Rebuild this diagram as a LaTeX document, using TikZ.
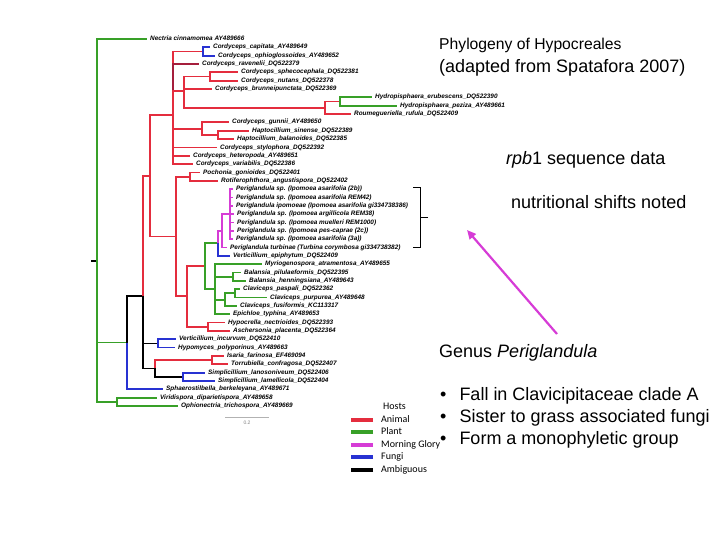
\documentclass[tikz,border=0pt]{standalone}
\usepackage{fontspec}
\setmainfont{Liberation Sans}
\newfontfamily\legendfont{Carlito}
\usetikzlibrary{arrows.meta,positioning}

\definecolor{hostred}{RGB}{228,45,62}
\definecolor{hostdark}{RGB}{165,30,60}
\definecolor{hostgreen}{RGB}{56,160,40}
\definecolor{hostpink}{RGB}{214,60,214}
\definecolor{hostblue}{RGB}{40,50,210}

\begin{document}
\begin{tikzpicture}
	[x=1pt,y=-1pt,
	branch/.style={line width=1.8pt},
	taxon/.style={anchor=west,inner xsep=3pt,inner ysep=0pt,text height=4.6pt,text depth=1.4pt,font=\fontsize{6.4}{7}\selectfont\bfseries\itshape},
	infotext/.style={anchor=base west,inner sep=0pt,font=\fontsize{18}{21}\selectfont},
	hostkey/.style={anchor=west,inner sep=0pt,text height=7pt,text depth=2pt,font=\legendfont\fontsize{10}{12}\selectfont},
	keybar/.style={line width=4pt}]
	\useasboundingbox (0,0) rectangle (720,540);

	% tree: y counts the taxa from the top
	\begin{scope}[yshift=-30.66pt,y=-8.34pt]
		\coordinate (nroot) at (97,27.63);
		\coordinate (rootstub) at (91,27.63);
		\coordinate (nC) at (127,37.4);
		\coordinate (nvir) at (117,44.5);
		\coordinate (nB) at (143,31.79);
		\coordinate (nA) at (150,17.38);
		\coordinate (nophio) at (173,10.07);
		\coordinate (ncap) at (203,2.5);
		\coordinate (nE) at (184,7.25);
		\coordinate (nsphe) at (210,5.5);
		\coordinate (nhyd) at (325,9.25);
		\coordinate (nhydro) at (340,8.5);
		\coordinate (ngun) at (202,11.75);
		\coordinate (nhapt) at (218,12.5);
		\coordinate (nD) at (176,24.68);
		\coordinate (npoch) at (190,17.5);
		\coordinate (nR2) at (187,31.86);
		\coordinate (ngc) at (205,28.22);
		\coordinate (nv) at (218,25.5);
		\coordinate (nm2) at (222,24);
		\coordinate (nm1) at (230,22);
		\coordinate (ng2) at (215,30.94);
		\coordinate (nbal) at (233,29.5);
		\coordinate (nc2) at (225,32.25);
		\coordinate (nc1) at (235,31.5);
		\coordinate (nhyp) at (208,35.5);
		\coordinate (nvert) at (158,37.5);
		\coordinate (nIS) at (155,40.5);
		\coordinate (nisa) at (212,39.5);
		\coordinate (nsim) at (183,41.5);

		\node [taxon] (t1) at (147,1) {Nectria cinnamomea AY489666};
		\node [taxon] (t2) at (210,2) {Cordyceps\_capitata\_AY489649};
		\node [taxon] (t3) at (215,3) {Cordyceps\_ophioglossoides\_AY489652};
		\node [taxon] (t4) at (199,4) {Cordyceps\_ravenelii\_DQ522379};
		\node [taxon] (t5) at (238,5) {Cordyceps\_sphecocephala\_DQ522381};
		\node [taxon] (t6) at (238,6) {Cordyceps\_nutans\_DQ522378};
		\node [taxon] (t7) at (212,7) {Cordyceps\_brunneipunctata\_DQ522369};
		\node [taxon] (t8) at (372,8) {Hydropisphaera\_erubescens\_DQ522390};
		\node [taxon] (t9) at (397,9) {Hydropisphaera\_peziza\_AY489661};
		\node [taxon] (t10) at (351,10) {Roumegueriella\_rufula\_DQ522409};
		\node [taxon] (t11) at (229,11) {Cordyceps\_gunnii\_AY489650};
		\node [taxon] (t12) at (249,12) {Haptocillium\_sinense\_DQ522389};
		\node [taxon] (t13) at (234,13) {Haptocillium\_balanoides\_DQ522385};
		\node [taxon] (t14) at (217,14) {Cordyceps\_stylophora\_DQ522392};
		\node [taxon] (t15) at (190,15) {Cordyceps\_heteropoda\_AY489651};
		\node [taxon] (t16) at (193,16) {Cordyceps\_variabilis\_DQ522386};
		\node [taxon] (t17) at (200,17) {Pochonia\_gonioides\_DQ522401};
		\node [taxon] (t18) at (218,18) {Rotiferophthora\_angustispora\_DQ522402};
		\node [taxon] (t19) at (233,19) {Periglandula sp. (Ipomoea asarifolia (2b))};
		\node [taxon] (t20) at (233,20) {Periglandula sp. (Ipomoea asarifolia REM42)};
		\node [taxon] (t21) at (233,21) {Periglandula ipomoeae (Ipomoea asarifolia gi334738386)};
		\node [taxon] (t22) at (234,22) {Periglandula sp. (Ipomoea argillicola REM38)};
		\node [taxon] (t23) at (234,23) {Periglandula sp. (Ipomoea muelleri REM1000)};
		\node [taxon] (t24) at (234,24) {Periglandula sp. (Ipomoea pes-caprae (2c))};
		\node [taxon] (t25) at (233,25) {Periglandula sp. (Ipomoea asarifolia (3a))};
		\node [taxon] (t26) at (227,26) {Periglandula turbinae (Turbina corymbosa gi334738382)};
		\node [taxon] (t27) at (230,27) {Verticillium\_epiphytum\_DQ522409};
		\node [taxon] (t28) at (262,28) {Myriogenospora\_atramentosa\_AY489655};
		\node [taxon] (t29) at (241,29) {Balansia\_pilulaeformis\_DQ522395};
		\node [taxon] (t30) at (246,30) {Balansia\_henningsiana\_AY489643};
		\node [taxon] (t31) at (240,31) {Claviceps\_paspali\_DQ522362};
		\node [taxon] (t32) at (267,32) {Claviceps\_purpurea\_AY489648};
		\node [taxon] (t33) at (237,33) {Claviceps\_fusiformis\_KC113317};
		\node [taxon] (t34) at (230,34) {Epichloe\_typhina\_AY489653};
		\node [taxon] (t35) at (225,35) {Hypocrella\_nectrioides\_DQ522393};
		\node [taxon] (t36) at (230,36) {Aschersonia\_placenta\_DQ522364};
		\node [taxon] (t37) at (176,37) {Verticillium\_incurvum\_DQ522410};
		\node [taxon] (t38) at (175,38) {Hypomyces\_polyporinus\_AY489663};
		\node [taxon] (t39) at (224,39) {Isaria\_farinosa\_EF469094};
		\node [taxon] (t40) at (228,40) {Torrubiella\_confragosa\_DQ522407};
		\node [taxon] (t41) at (205,41) {Simplicillium\_lanosoniveum\_DQ522406};
		\node [taxon] (t42) at (215,42) {Simplicillium\_lamellicola\_DQ522404};
		\node [taxon] (t43) at (163,43) {Sphaerostilbella\_berkeleyana\_AY489671};
		\node [taxon] (t44) at (157,44) {Viridispora\_diparietispora\_AY489658};
		\node [taxon] (t45) at (178,45) {Ophionectria\_trichospora\_AY489669};

		\draw [branch] (rootstub) -- (nroot);
		\draw [branch,hostgreen] (nroot) |- (t1.west);
		\draw [branch,hostgreen] (nroot) |- (nC);
		\draw [branch,hostgreen] (nroot) |- (nvir);
		\draw [branch,hostgreen] (nvir) |- (t44.west);
		\draw [branch,hostgreen] (nvir) |- (t45.west);
		\draw [branch] (nC) |- (nB);
		\draw [branch,hostblue] (nC) |- (t43.west);
		\draw [branch,hostred] (nB) |- (nA);
		\draw [branch] (nB) |- (nvert);
		\draw [branch] (nB) |- (nIS);
		\draw [branch,hostblue] (nvert) |- (t37.west);
		\draw [branch,hostblue] (nvert) |- (t38.west);
		\draw [branch,hostred] (nIS) |- (nisa);
		\draw [branch] (nIS) |- (nsim);
		\draw [branch,hostred] (nisa) |- (t39.west);
		\draw [branch,hostred] (nisa) |- (t40.west);
		\draw [branch,hostblue] (nsim) |- (t41.west);
		\draw [branch,hostblue] (nsim) |- (t42.west);
		% Ophiocordyceps side
		\draw [branch,hostred] (nA) |- (nophio);
		\draw [branch,hostred] (nA) |- (nD);
		\draw [branch,hostred] (nophio) |- (ncap);
		\draw [branch,hostblue] (ncap) |- (t2.west);
		\draw [branch,hostblue] (ncap) |- (t3.west);
		\draw [branch,hostdark] (nophio) |- (t4.west);
		\draw [branch,hostred] (nophio) |- (nE);
		\draw [branch,hostred] (nE) |- (nsphe);
		\draw [branch,hostred] (nsphe) |- (t5.west);
		\draw [branch,hostred] (nsphe) |- (t6.west);
		\draw [branch,hostred] (nE) |- (t7.west);
		\draw [branch,hostred] (nE) |- (nhyd);
		\draw [branch,hostred] (nhyd) |- (nhydro);
		\draw [branch,hostgreen] (nhydro) |- (t8.west);
		\draw [branch,hostgreen] (nhydro) |- (t9.west);
		\draw [branch,hostred] (nhyd) |- (t10.west);
		\draw [branch,hostred] (nophio) |- (ngun);
		\draw [branch,hostred] (ngun) |- (t11.west);
		\draw [branch,hostred] (ngun) |- (nhapt);
		\draw [branch,hostred] (nhapt) |- (t12.west);
		\draw [branch,hostred] (nhapt) |- (t13.west);
		\draw [branch,hostred] (nophio) |- (t14.west);
		\draw [branch,hostred] (nophio) |- (t15.west);
		\draw [branch,hostred] (nophio) |- (t16.west);
		% Clavicipitaceae
		\draw [branch,hostred] (nD) |- (npoch);
		\draw [branch,hostred] (npoch) |- (t17.west);
		\draw [branch,hostred] (npoch) |- (t18.west);
		\draw [branch,hostred] (nD) |- (nR2);
		\draw [branch,hostred] (nR2) |- (ngc);
		\draw [branch,hostred] (nR2) |- (nhyp);
		\draw [branch,hostred] (nhyp) |- (t35.west);
		\draw [branch,hostred] (nhyp) |- (t36.west);
		\draw [branch,hostgreen] (ngc) |- (nv);
		\draw [branch,hostgreen] (ngc) |- (ng2);
		\draw [branch,hostpink] (nv) |- (nm2);
		\draw [branch,hostblue] (nv) |- (t27.west);
		\draw [branch,hostpink] (nm2) |- (nm1);
		\draw [branch,hostpink] (nm2) |- (t26.west);
		\foreach \i in {19,...,25}
			\draw [branch,hostpink] (nm1) |- (t\i.west);
		\draw [branch,hostgreen] (ng2) |- (t28.west);
		\draw [branch,hostgreen] (ng2) |- (nbal);
		\draw [branch,hostgreen] (nbal) |- (t29.west);
		\draw [branch,hostgreen] (nbal) |- (t30.west);
		\draw [branch,hostgreen] (ng2) |- (nc2);
		\draw [branch,hostgreen] (nc2) |- (nc1);
		\draw [branch,hostgreen] (nc1) |- (t31.west);
		\draw [branch,hostgreen] (nc1) |- (t32.west);
		\draw [branch,hostgreen] (nc2) |- (t33.west);
		\draw [branch,hostgreen] (ng2) |- (t34.west);
	\end{scope}

	% scale bar
	\coordinate (sbleft) at (225,417);
	\coordinate (sbright) at (269,417);
	\draw [gray!60,line width=0.6pt] (sbleft) -- (sbright) node [midway,below=4pt,inner sep=0pt,text=gray,font=\fontsize{5}{6}\selectfont] {0.2};

	% bracket round Periglandula
	\coordinate (brtop) at (413,187);
	\coordinate (brbot) at (413,247);
	\coordinate (brtip) at (428,217);
	\draw [line width=0.6pt] (brtop) -- ++(7,0) |- (brbot);
	\draw [line width=0.6pt] (brtip) -- ++(-8,0);

	% text
	\node [infotext,font=\fontsize{15.7}{19}\selectfont] (title) at (439,50) {Phylogeny of Hypocreales};
	\node [infotext] (source) at (439,73) {(adapted from Spatafora 2007)};
	\node [infotext] (rpb) at (506,165) {\textit{rpb}1 sequence data};
	\node [infotext] (shifts) at (511,208) {nutritional shifts noted};
	\node [infotext] (genus) at (439,357) {Genus \textit{Periglandula}};
	\node [infotext] (p1) at (440,400) {\textbullet\hspace{13pt}Fall in Clavicipitaceae clade A};
	\node [infotext] (p2) at (440,422) {\textbullet\hspace{13pt}Sister to grass associated fungi};
	\node [infotext] (p3) at (440,444) {\textbullet\hspace{13pt}Form a monophyletic group};

	\coordinate (arrtail) at (557,334);
	\coordinate (arrhead) at (467,230);
	\draw [hostpink,line width=2.2pt,-{Triangle[length=9pt,width=8pt]}] (arrtail) -- (arrhead);

	% legend
	\node [hostkey] (khosts) at (383,407) {Hosts};
	\node [hostkey] (kanimal) at (381,420) {Animal};
	\node [hostkey] (kplant) [below=3pt of kanimal.south west,anchor=north west] {Plant};
	\node [hostkey] (kglory) [below=3pt of kplant.south west,anchor=north west] {Morning Glory};
	\node [hostkey] (kfungi) [below=3pt of kglory.south west,anchor=north west] {Fungi};
	\node [hostkey] (kambig) [below=3pt of kfungi.south west,anchor=north west] {Ambiguous};
	\draw [keybar,hostred] (kanimal.west) ++(-8,0) -- ++(-22,0);
	\draw [keybar,hostgreen] (kplant.west) ++(-8,0) -- ++(-22,0);
	\draw [keybar,hostpink] (kglory.west) ++(-8,0) -- ++(-22,0);
	\draw [keybar,hostblue] (kfungi.west) ++(-8,0) -- ++(-22,0);
	\draw [keybar] (kambig.west) ++(-8,0) -- ++(-22,0);
\end{tikzpicture}
\end{document}
